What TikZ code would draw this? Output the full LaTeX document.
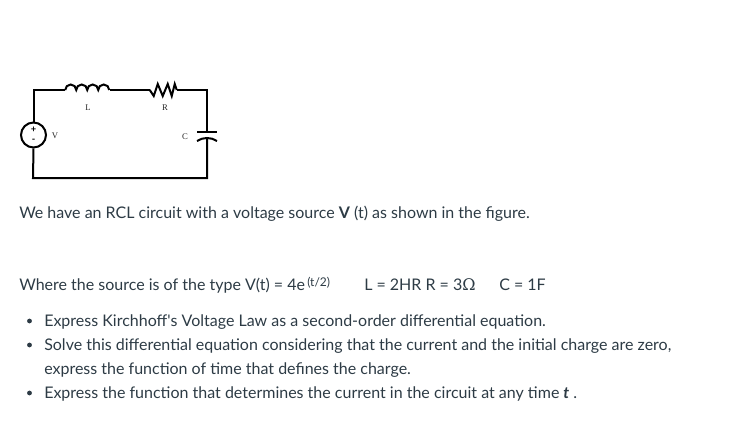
\documentclass[tikz,border=0pt]{standalone}
\usepackage{fontspec}
\setmainfont{Lato}
\newfontfamily\dejavu{DejaVu Serif}
\newfontfamily\labelfont{Liberation Serif}
\usetikzlibrary{positioning,calc}
\definecolor{textgray}{HTML}{2D3B45}
\begin{document}
\begin{tikzpicture}[x=0.75pt,y=-0.75pt,
		wire/.style={line width=1.5pt, black},
		part/.style={rectangle, inner sep=0pt, minimum height=8pt},
		plabel/.style={font=\fontsize{6.5pt}{7pt}\selectfont\labelfont, inner sep=0pt, text=black!85},
		polar/.style={inner sep=0pt, font=\bfseries\fontsize{7pt}{7pt}\selectfont},
		para/.style={anchor=base west, inner sep=0pt, font=\fontsize{12pt}{14pt}\selectfont, text=textgray},
		dot/.style={circle, fill=textgray, inner sep=0pt, minimum size=3.6pt}
	]
	\useasboundingbox (0,0) rectangle (732,439);
	\coordinate (topleft) at (33,90);
	\coordinate (topright) at (207,90);
	\coordinate (botleft) at (33,178);
	\coordinate (botright) at (207,178);
	\node[circle, draw, line width=1.5pt, minimum size=25*0.75pt, inner sep=0pt] (source) at (33.5,135) {};
	\node[part, minimum width=44*0.75pt] (coil) at (87.5,90) {};
	\node[part, minimum width=27*0.75pt] (res) at (163.5,90) {};
	\coordinate (plate1) at (207,132);
	\coordinate (plate2) at (207,138);
	\node[plabel] (lblL) at (88,107.5) {L};
	\node[plabel] (lblR) at (165,107.5) {R};
	\node[plabel] (lblV) at (55,136) {V};
	\node[plabel] (lblC) at (185,136.5) {C};
	% wires
	\draw[wire] (source.north) |- (coil.west);
	\draw[wire] (coil.east) -- (res.west);
	\draw[wire] (res.east) -- (topright) -- (plate1);
	\draw[wire] (plate2) -- (botright) -- (botleft) -- (source.south);
	% coil
	\draw[wire] (coil.west)
		\foreach \i in {1,...,4} { arc[start angle=180, end angle=360, x radius=5.5, y radius=5.5] };
	% resistor
	\draw[wire] (res.west) -- ++(4,6) -- ++(4,-12) -- ++(5,12) -- ++(5,-12) -- ++(4,12) -- ++(3,-12) -- ++(2,6);
	% capacitor
	\draw[wire] ($(plate1)+(-10,0)$) -- ($(plate1)+(10,0)$);
	\draw[wire] ($(plate2)+(-10,3)$) .. controls ($(plate2)+(-4,-1)$) and ($(plate2)+(4,-1)$) .. ($(plate2)+(10,3)$);
	% source polarity
	\node[polar] (plus) at (33.5,129.5) {+};
	\node[polar] (minus) at (33.5,141) {-};
	% text
	\node[para] (line1) at (19,218) {We have an RCL circuit with a voltage source \textbf{V} (t) as shown in the figure.};
	\node[para] (line2) at (19,290) {Where the source is of the type V(t) = 4e};
	\node[para, font=\fontsize{9pt}{10pt}\selectfont] (expo) at (307,286) {(t/2)};
	\node[para] (vals1) at (364,290) {L = 2HR R = 3{\dejavu Ω}};
	\node[para] (vals2) at (499,290) {C = 1F};
	\node[dot] (dot1) at (29.5,321) {};
	\node[para] (item1) at (44,326) {Express Kirchhoff\textquotesingle s Voltage Law as a second-order differential equation.};
	\node[dot] (dot2) at (29.5,345) {};
	\node[para] (item2) at (44,350) {Solve this differential equation considering that the current and the initial charge are zero,};
	\node[para] (item2b) at (44,374) {express the function of time that defines the charge.};
	\node[dot] (dot3) at (29.5,393) {};
	\node[para] (item3) at (44,398) {Express the function that determines the current in the circuit at any time \textbf{\textit{t}} .};
\end{tikzpicture}
\end{document}
